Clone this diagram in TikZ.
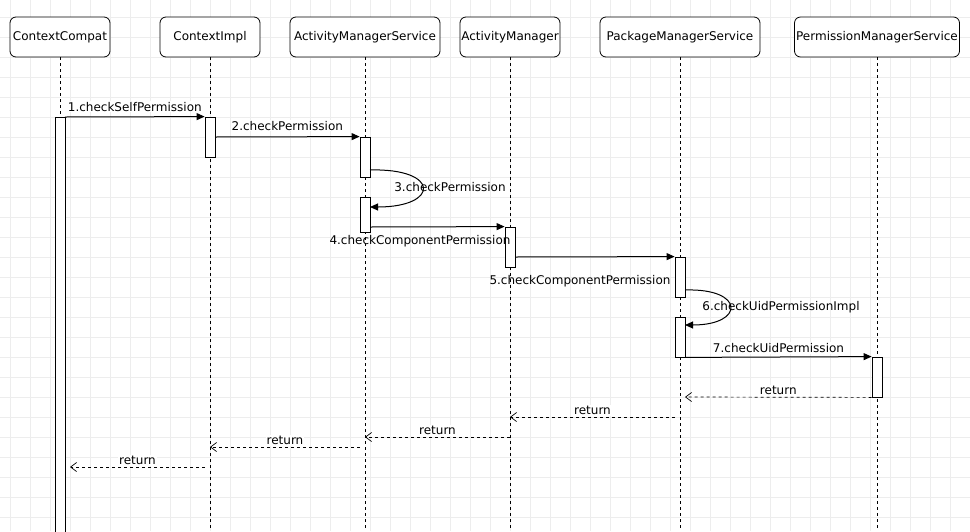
\documentclass[tikz,border=0pt]{standalone}
\usepackage{fontspec}
\setmainfont{DejaVu Sans}
\usetikzlibrary{arrows.meta}
\begin{document}
\begin{tikzpicture}[x=1pt,y=-1pt,
  head/.style={draw,line width=0.8pt,rounded corners=6pt,fill=white,minimum height=40pt,font=\fontsize{12}{14}\selectfont,inner sep=0pt},
  life/.style={dashed,line width=0.8pt},
  act/.style={draw,fill=white,line width=0.8pt},
  msg/.style={-{Triangle[length=8pt,width=7pt]},line width=1pt},
  ret/.style={-{Straight Barb[length=6pt,width=9pt]},dashed,line width=0.7pt},
  lbl/.style={font=\fontsize{12}{14}\selectfont,fill=white,inner sep=1pt}]
\useasboundingbox (0,0) rectangle (970,531);
\fill[white] (0,0) rectangle (970,531);
\foreach \x in {10,30,...,970} \draw[gray!14,line width=0.7pt] (\x,0) -- (\x,531);
\foreach \y in {17,37,...,531} \draw[gray!14,line width=0.7pt] (0,\y) -- (970,\y);
% heads
\node[head,minimum width=100pt] (h1) at (60,37) {ContextCompat};
\node[head,minimum width=100pt] (h2) at (210,37) {ContextImpl};
\node[head,minimum width=150pt] (h3) at (365,37) {ActivityManagerService};
\node[head,minimum width=100pt] (h4) at (510,37) {ActivityManager};
\node[head,minimum width=160pt] (h5) at (680,37) {PackageManagerService};
\node[head,minimum width=165pt] (h6) at (877,37) {PermissionManagerService};
\coordinate (e1) at (60,531);\coordinate (e2) at (210,531);\coordinate (e3) at (365,531);
\coordinate (e4) at (510,531);\coordinate (e5) at (680,531);\coordinate (e6) at (877,531);
\draw[life] (h1) -- (e1); \draw[life] (h2) -- (e2); \draw[life] (h3) -- (e3);
\draw[life] (h4) -- (e4); \draw[life] (h5) -- (e5); \draw[life] (h6) -- (e6);
% activations
\draw[act] (55,117) rectangle (65,535); \coordinate (a1r) at (65,117);\coordinate (a1) at (70,467);
\node[act,minimum width=10pt,minimum height=40pt,inner sep=0pt] (a2) at (210,137) {};
\node[act,minimum width=10pt,minimum height=40pt,inner sep=0pt] (a3) at (365,157) {};
\node[act,minimum width=10pt,minimum height=35pt,inner sep=0pt] (a3b) at (365,214.5) {};
\node[act,minimum width=10pt,minimum height=40pt,inner sep=0pt] (a4) at (510,247) {};
\node[act,minimum width=10pt,minimum height=40pt,inner sep=0pt] (a5) at (680,277) {};
\node[act,minimum width=10pt,minimum height=40pt,inner sep=0pt] (a5b) at (680,337) {};
\node[act,minimum width=10pt,minimum height=40pt,inner sep=0pt] (a6) at (877,377) {};
% messages
\draw[msg] (a1r) -- (a2.north west) node[lbl,midway,above=4pt] {1.checkSelfPermission};
\draw[msg] (215,137) -- (a3.north west) node[lbl,midway,above=5pt] {2.checkPermission};
\draw[msg] (370,170) .. controls (440,168) and (440,207) .. (370,207);
\node[lbl,fill=none] (l3) at (450,187) {3.checkPermission};
\draw[msg] (370,227) -- (a4.north west);
\node[lbl,fill=none] (l4) at (420,241) {4.checkComponentPermission};
\draw[msg] (515,257) -- (a5.north west);
\node[lbl,fill=none] (l5) at (580,281) {5.checkComponentPermission};
\draw[msg] (685,290) .. controls (745,288) and (745,325) .. (685,325);
\node[lbl,fill=none] (l6) at (781,307) {6.checkUidPermissionImpl};
\draw[msg] (a5b.south east) -- (a6.north west) node[lbl,midway,above=3pt] {7.checkUidPermission};
% returns
\draw[ret] (a6.south west) -- (685,397) node[lbl,midway,above=1pt] {return};
\draw[ret] (675,417) -- (510,417) node[lbl,midway,above=1pt] {return};
\draw[ret] (510,437) -- (365,437) node[lbl,pos=0.5,above=1pt] {return};
\draw[ret] (360,447) -- (210,447) node[lbl,pos=0.5,above=1pt] {return};
\draw[ret] (205,467) -- (a1) node[lbl,pos=0.5,above=1pt] {return};
\end{tikzpicture}
\end{document}
